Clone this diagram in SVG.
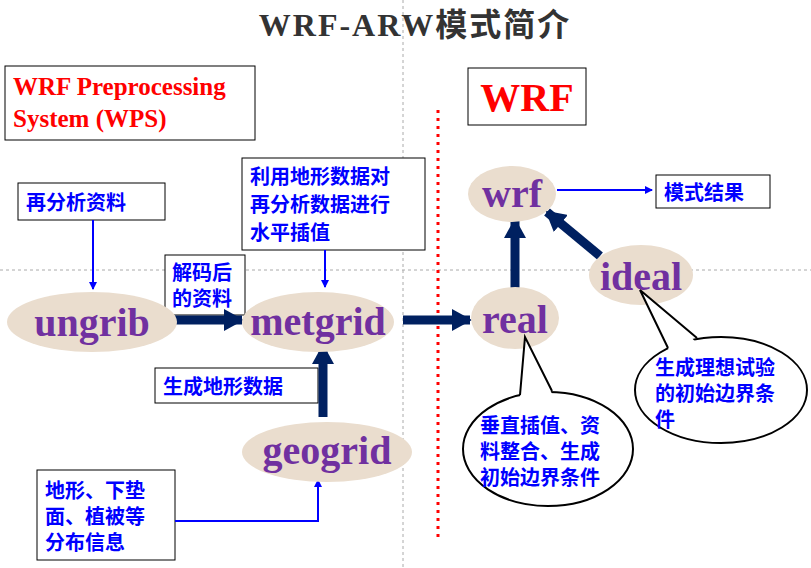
<svg xmlns="http://www.w3.org/2000/svg" width="811" height="568" viewBox="0 0 811 568">
<defs>
<style>
.box{fill:#fff;stroke:#000;stroke-width:1}
.bt{font-family:"Noto Sans CJK SC",sans-serif;font-weight:bold;font-size:20px;fill:#0000ff}
.el{fill:#eaddce}
.nt{font-family:"Liberation Serif",serif;font-weight:bold;font-size:40px;fill:#7030a0;text-anchor:middle}
.thin{stroke:#0000ff;stroke-width:2;fill:none}
.thick{stroke:#002060;stroke-width:9;fill:none}
.co{fill:#fff;stroke:#000;stroke-width:2}
</style>
<marker id="ah" markerWidth="8" markerHeight="8" refX="7" refY="4" orient="auto" markerUnits="userSpaceOnUse"><path d="M0,0L8,4L0,8z" fill="#0000ff"/></marker>
<marker id="AH" markerWidth="20" markerHeight="22" refX="18" refY="11" orient="auto" markerUnits="userSpaceOnUse"><path d="M0,0L20,11L0,22z" fill="#002060"/></marker>
</defs>
<rect width="811" height="568" fill="#fff"/>
<line x1="403" y1="0" x2="403" y2="568" stroke="#aaa" stroke-dasharray="3,3"/>
<line x1="0" y1="270" x2="811" y2="270" stroke="#aaa" stroke-dasharray="3,3"/>
<line x1="438" y1="110" x2="438" y2="540" stroke="#ff0000" stroke-width="3" stroke-dasharray="3,5"/>
<text x="415" y="36" text-anchor="middle" font-family="Liberation Serif,Noto Sans CJK SC,serif" font-weight="bold" font-size="32" letter-spacing="2" fill="#333">WRF-ARW模式简介</text>
<g id="wps"><rect class="box" x="5" y="66" width="250" height="74"/><text font-family="Liberation Serif,serif" font-weight="bold" font-size="25" fill="#ff0000"><tspan x="13" y="95">WRF Preprocessing</tspan><tspan x="13" y="127">System (WPS)</tspan></text></g>
<g id="wrfbox"><rect class="box" x="468" y="68" width="118" height="57"/><text x="527" y="111" text-anchor="middle" font-family="Liberation Serif,serif" font-weight="bold" font-size="40" fill="#ff0000">WRF</text></g>
<g id="reanalysis"><rect class="box" x="18" y="183" width="147" height="37"/><text class="bt" x="26" y="210">再分析资料</text></g>
<g id="decoded"><rect class="box" x="165" y="255" width="80" height="60"/><text class="bt"><tspan x="172" y="280">解码后</tspan><tspan x="172" y="306">的资料</tspan></text></g>
<g id="horiz"><rect class="box" x="242" y="158" width="183" height="92"/><text class="bt"><tspan x="250" y="184">利用地形数据对</tspan><tspan x="250" y="212">再分析数据进行</tspan><tspan x="250" y="240">水平插值</tspan></text></g>
<g id="terrain"><rect class="box" x="155" y="368" width="163" height="35"/><text class="bt" x="163" y="394">生成地形数据</text></g>
<g id="landuse"><rect class="box" x="37" y="470" width="138" height="90"/><text class="bt"><tspan x="45" y="498">地形、下垫</tspan><tspan x="45" y="524">面、植被等</tspan><tspan x="45" y="550">分布信息</tspan></text></g>
<g id="result"><rect class="box" x="656" y="175" width="114" height="33"/><text class="bt" x="664" y="200">模式结果</text></g>
<g id="connectors">
<line class="thin" x1="93" y1="220" x2="93" y2="289" marker-end="url(#ah)"/>
<line class="thin" x1="325" y1="250" x2="325" y2="287" marker-end="url(#ah)"/>
<polyline class="thin" points="175,521 318,521 318,480" marker-end="url(#ah)"/>
<line class="thin" x1="557" y1="190" x2="652" y2="190" marker-end="url(#ah)"/>
<line class="thick" x1="175" y1="320" x2="242" y2="320" marker-end="url(#AH)"/>
<line class="thick" x1="403" y1="320" x2="470" y2="320" marker-end="url(#AH)"/>
<line class="thick" x1="323" y1="417" x2="323" y2="346" marker-end="url(#AH)"/>
<line class="thick" x1="515" y1="288" x2="515" y2="220" marker-end="url(#AH)"/>
<line class="thick" x1="600" y1="256" x2="547" y2="212" marker-end="url(#AH)"/>
</g>
<g id="ungrib"><ellipse class="el" cx="92" cy="322" rx="85" ry="30"/><text class="nt" x="92" y="336">ungrib</text></g>
<g id="metgrid"><ellipse class="el" cx="318" cy="322" rx="76" ry="30"/><text class="nt" x="318" y="335">metgrid</text></g>
<g id="geogrid"><ellipse class="el" cx="327" cy="452" rx="85" ry="30"/><text class="nt" x="327" y="464">geogrid</text></g>
<g id="real"><ellipse class="el" cx="515" cy="318" rx="44" ry="31"/><text class="nt" x="515" y="333">real</text></g>
<g id="wrf"><ellipse class="el" cx="512" cy="194" rx="44" ry="28"/><text class="nt" x="512" y="207">wrf</text></g>
<g id="ideal"><ellipse class="el" cx="641" cy="275" rx="52" ry="30"/><text class="nt" x="641" y="290">ideal</text></g>
<g id="callout-real"><ellipse class="co" cx="548" cy="449" rx="85" ry="57"/><path d="M520,398 L525,337 L553,396z" fill="#fff"/><polyline points="520,395 525,337 552,391" fill="none" stroke="#000" stroke-width="2"/><text class="bt"><tspan x="480" y="433">垂直插值、资</tspan><tspan x="480" y="459">料整合、生成</tspan><tspan x="480" y="485">初始边界条件</tspan></text></g>
<g id="callout-ideal"><ellipse class="co" cx="721" cy="390" rx="86" ry="53"/><path d="M670,352 L640,290 L697,343z" fill="#fff"/><polyline points="668,348 640,290 697,338" fill="none" stroke="#000" stroke-width="2"/><text class="bt"><tspan x="655" y="375">生成理想试验</tspan><tspan x="655" y="401">的初始边界条</tspan><tspan x="655" y="427">件</tspan></text></g>
</svg>
